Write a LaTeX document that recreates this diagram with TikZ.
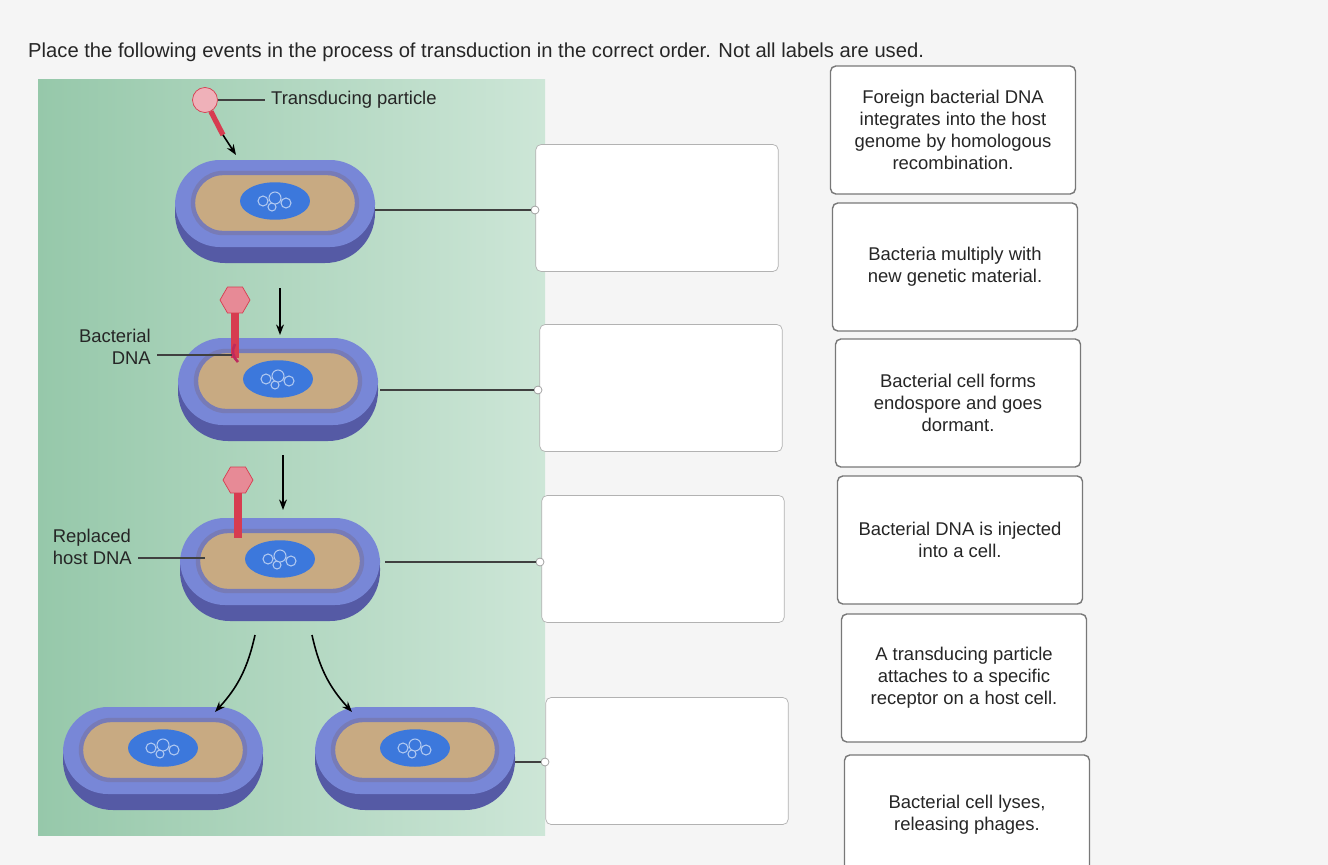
\documentclass[tikz,border=0pt]{standalone}
\usepackage{fontspec}
\setmainfont{Liberation Sans}
\usetikzlibrary{positioning, calc, arrows.meta, shapes.geometric}

\definecolor{panelA}{RGB}{150,200,170}
\definecolor{panelB}{RGB}{205,230,215}
\definecolor{cellOut}{RGB}{120,135,215}
\definecolor{cellDark}{RGB}{85,90,165}
\definecolor{cellIn}{RGB}{200,170,130}
\definecolor{dnaBlue}{RGB}{60,120,220}
\definecolor{phageRed}{RGB}{215,60,80}
\definecolor{boxLine}{RGB}{120,120,120}

\tikzset{
  TextStyle/.style = {font=\fontsize{10.5}{12.5}\selectfont, align=center, text=black!85},
  LabelBox/.style = {draw=boxLine, rounded corners=3pt, fill=white, thick,
                     minimum width=4.9cm, minimum height=2.56cm, TextStyle},
  EmptyBox/.style = {draw=black!30, rounded corners=3pt, fill=white,
                     minimum width=4.85cm, minimum height=2.54cm},
  Pointer/.style = {draw=black!75, line width=0.8pt},
  EndDot/.style = {circle, draw=black!40, fill=white, inner sep=1.6pt},
  StepArrow/.style = {draw=black, line width=0.9pt, -{Stealth[length=6pt]}}
}

% one bacterial cell: #1 name, #2 centre (offsets in pixels)
\newcommand{\bcell}[2]{%
  \fill[cellDark, rounded corners=1cm] ($(#2)+(-100,-45)$) rectangle ($(#2)+(100,58)$);
  \fill[cellOut, rounded corners=0.9cm] ($(#2)+(-100,-45)$) rectangle ($(#2)+(100,42)$);
  \draw[cellDark!80, line width=2.5pt, fill=cellIn, rounded corners=0.6cm]
     ($(#2)+(-82,-32)$) rectangle ($(#2)+(82,28)$);
  \node[ellipse, fill=dnaBlue, minimum width=1.4cm, minimum height=0.75cm, inner sep=0pt]
     (#1) at ($(#2)+(0,-4)$) {};
  \draw[white!60!dnaBlue, line width=0.6pt] ($(#1)+(-12,0)$) circle (5)
     ($(#1)+(0,-3)$) circle (6) ($(#1)+(11,2)$) circle (5) ($(#1)+(-3,6)$) circle (4);}

% small phage: #1 name, #2 head point
\newcommand{\phage}[2]{%
  \node[regular polygon, regular polygon sides=6, fill=phageRed!60, draw=phageRed,
        minimum size=0.6cm, inner sep=0pt] (#1) at (#2) {};
  \fill[phageRed] ($(#1.south)+(-4,0)$) rectangle ($(#1.south)+(4,45)$);}

\begin{document}
\begin{tikzpicture}[x=0.02cm, y=-0.02cm]
  \useasboundingbox (0,0) rectangle (1328,865);
  \fill[black!4] (0,0) rectangle (1328,865);

  \node[anchor=west, font=\fontsize{11.5}{13}\selectfont, text=black!85] (title) at (22,52)
    {Place the following events in the process of transduction in the correct order. Not all labels are used.};

  % green panel
  \shade[left color=panelA, right color=panelB] (38,80) rectangle (545,835);

  % cells
  \coordinate (c1) at (275,205);
  \coordinate (c2) at (278,383);
  \coordinate (c3) at (280,563);
  \coordinate (c4) at (163,752);
  \coordinate (c5) at (415,752);
  \bcell{dna1}{c1}
  \bcell{dna2}{c2}
  \bcell{dna3}{c3}
  \bcell{dna4}{c4}
  \bcell{dna5}{c5}

  % transducing particle
  \node[circle, draw=phageRed, fill=phageRed!40, minimum size=0.5cm] (head) at (205,100) {};
  \draw[phageRed, line width=3pt] (head) -- (223,135);
  \draw[StepArrow] (223,135) -- (236,155);
  \node[TextStyle, anchor=west] (tp) at (265,100) {Transducing particle};
  \draw[Pointer] (head) -- (tp);

  % phages on cells 2 and 3
  \phage{ph2}{235,300}
  \phage{ph3}{238,480}
  \draw[phageRed!70!violet, line width=1.5pt] (235,344) to[bend right=40] (238,362);

  % labels on the left
  \node[TextStyle, align=right, anchor=east] (bdna) at (157,347) {Bacterial\\DNA};
  \coordinate (bdnaEnd) at (232,355);
  \draw[Pointer] (bdna.east |- bdnaEnd) -- (bdnaEnd);
  \node[TextStyle, align=left, anchor=east] (rdna) at (138,547) {Replaced\\host DNA};
  \coordinate (rdnaEnd) at (205,558);
  \draw[Pointer] (rdna.east |- rdnaEnd) -- (rdnaEnd);

  % step arrows
  \coordinate (a1) at (280,288);  \coordinate (a1e) at (280,335);
  \coordinate (a2) at (283,455);  \coordinate (a2e) at (283,510);
  \draw[StepArrow] (a1) -- (a1e);
  \draw[StepArrow] (a2) -- (a2e);
  \coordinate (sp1) at (255,635); \coordinate (sp1e) at (215,712);
  \coordinate (sp2) at (312,635); \coordinate (sp2e) at (352,712);
  \draw[StepArrow] (sp1) to[bend left=15] (sp1e);
  \draw[StepArrow] (sp2) to[bend right=15] (sp2e);

  % empty answer boxes
  \node[EmptyBox] (e1) at (657,208) {};
  \node[EmptyBox] (e2) at (661,388) {};
  \node[EmptyBox] (e3) at (663,559) {};
  \node[EmptyBox] (e4) at (667,761) {};

  % connector lines to the boxes
  \node[EndDot] (d1) at (535,210) {};
  \node[EndDot] (d2) at (538,390) {};
  \node[EndDot] (d3) at (540,562) {};
  \node[EndDot] (d4) at (545,762) {};
  \draw[Pointer] (375,210) -- (d1);
  \draw[Pointer] (380,390) -- (d2);
  \draw[Pointer] (385,562) -- (d3);
  \draw[Pointer] (515,762) -- (d4);

  % label boxes
  \node[LabelBox] (l1) at (953,130) {Foreign bacterial DNA\\integrates into the host\\genome by homologous\\recombination.};
  \node[LabelBox] (l2) at (955,267) {Bacteria multiply with\\new genetic material.};
  \node[LabelBox] (l3) at (958,403) {Bacterial cell forms\\endospore and goes\\dormant.};
  \node[LabelBox] (l4) at (960,540) {Bacterial DNA is injected\\into a cell.};
  \node[LabelBox] (l5) at (964,678) {A transducing particle\\attaches to a specific\\receptor on a host cell.};
  \node[LabelBox, minimum height=2.4cm] (l6) at (967,815) {Bacterial cell lyses,\\releasing phages.};
\end{tikzpicture}
\end{document}
